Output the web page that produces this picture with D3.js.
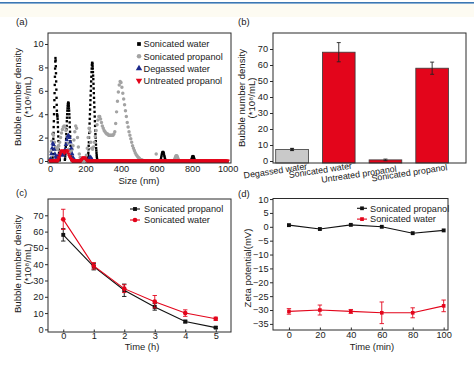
<!DOCTYPE html>
<html><head><meta charset="utf-8">
<script src="https://cdn.jsdelivr.net/npm/d3@7"></script>
<style>
body{margin:0;background:#fff}
svg{display:block}
text{font-family:"Liberation Sans",Arial,Helvetica,sans-serif;fill:#1a1a1a}
</style>
</head><body>
<svg id="fig" width="474" height="365"></svg>
<script>
// ---------------- DATA ----------------
// (a) size distribution: segments of [start size (nm), step (nm), densities]
const legendA = ["Sonicated water", "Sonicated propanol", "Degassed water", "Untreated propanol"];
const sizeTicksA = [0, 200, 400, 600, 800, 1000];
const densityTicksA = [0, 2, 4, 6, 8, 10];

const sonicatedWaterSegs = [
  {start: 14, step: 1, values: [0.1,0.3,0.6,1.0,1.4,1.9,2.4,2.9,3.4,4.0,4.6,5.2,5.8,6.5,7.2,7.9,8.5,8.8,8.6,8.1,7.5,6.8,6.1,5.4,4.8,4.3,4.0,3.9,3.8,3.6,3.3,2.9,2.5,2.1,1.7,1.3,1.0,0.7,0.5,0.3,0.15,0.05]},
  {start: 84, step: 1, values: [0.1,0.2,0.4,0.6,0.9,1.2,1.5,1.9,2.3,2.7,3.0,3.4,3.7,4.0,4.3,4.5,4.7,4.85,4.95,5.0,4.95,4.85,4.7,4.5,4.3,4.0,3.7,3.3,2.9,2.5,2.1,1.7,1.3,1.0,0.7,0.5,0.3,0.15,0.05]},
  {start: 212, step: 1, values: [0.1,0.2,0.35,0.5,0.7,1.0,1.3,1.6,2.0,2.4,2.8,3.2,3.6,4.0,4.4,4.8,5.2,5.6,6.0,6.4,6.8,7.2,7.6,7.9,8.2,8.35,8.4,8.3,8.1,7.9,7.6,7.3,7.0,6.6,6.2,5.8,5.4,5.0,4.6,4.2,3.8,3.4,3.0,2.6,2.3,2.0,1.7,1.4,1.1,0.9,0.7,0.5,0.35,0.2,0.1,0.05]},
  {start: 622, step: 2, values: [0.05,0.15,0.3,0.45,0.6,0.7,0.75,0.78,0.75,0.68,0.55,0.42,0.3,0.18,0.08]},
  {start: 795, step: 2, values: [0.05,0.15,0.26,0.35,0.4,0.42,0.4,0.34,0.25,0.15,0.06]}
];
const sonicatedPropanolSegs = [
  {start: 0, step: 5, values: [0.2,0.8,1.7,2.3,2.2,1.6,1.2,1.0,1.0,1.1,1.3,1.6,2.0,2.4,2.7,2.9,3.0,2.9,2.6,2.1,1.5,1.0,0.7,
    0.6,0.8,1.0,1.3,1.8,2.5,3.0,2.8,2.0,1.2,0.6,0.3,0.1,0.05,0.02,0.02,0.05,
    0.2,0.5,1.1,2.0,2.8,2.5,1.6,1.1,1.0,1.2,1.6,2.1,2.6,3.1,3.5,3.8,3.8,3.6,3.3,3.0,2.8,2.6,2.5,2.4,2.3,2.3,2.2,2.2,
    2.2,2.2,2.2,2.2,2.3,2.5,3.2,4.2,5.1,5.9,6.5,6.8,6.7,6.3,5.8,5.3,4.8,4.3,3.8,3.3,2.9,2.5,2.2,1.9,1.6,1.3,1.1,0.9,0.7,0.55,0.45,0.35,0.27,0.2,0.14,0.1,0.07,0.05,0.03]},
  {start: 598, step: 1, values: [0.6]},
  {start: 700, step: 3, values: [0.08,0.2,0.32,0.42,0.46,0.42,0.32,0.2,0.08]}
];
const degassedWaterSegs = [
  {start: 4, step: 4, values: [0.2,0.6,1.1,1.5,1.4,1.0,0.6,0.4,0.3,0.3]},
  {start: 45, step: 5, values: [0.4,0.5,0.6,0.7,0.6,0.5,0.5,0.7,1.0,1.4,1.8,2.1,2.2,2.0,1.6,1.1,0.6,0.3,0.1,0.05]},
  {start: 215, step: 5, values: [0.05,0.2,0.35,0.3,0.15,0.05]}
];
const untreatedPropanolSegs = [
  {start: 45, step: 5, values: [0.1,0.3,0.5,0.7,0.85,0.9,0.8,0.7,0.75,0.85,0.9,0.8,0.6,0.4,0.25,0.15,0.08]},
  {start: 175, step: 5, values: [0.05,0.15,0.25,0.3,0.28,0.2,0.1,0.03]}
];
const baselineSizes = d3.range(0, 1001, 2);   // size bins measured at zero density

// (b) total bubble density
const samplesB = ["Degassed water", "Sonicated water", "Untreated propanol", "Sonicated propanol"];
const densityB = [7.2, 68, 0.7, 58];
const errorB = [0.7, 6, 0.5, 3.8];
const ticksB = [0, 10, 20, 30, 40, 50, 60, 70];

// (c) decay over time
const timeC = [0, 1, 2, 3, 4, 5];
const propanolC = [58, 38.5, 24, 13.8, 4.8, 1.1];
const propanolErrC = [3.8, 2, 3.8, 2, 0.8, 0.5];
const waterC = [67.5, 39, 25, 17, 10, 6.5];
const waterErrC = [6.2, 2, 2.4, 3.8, 2, 1];
const ticksCy = [0, 10, 20, 30, 40, 50, 60, 70];

// (d) zeta potential
const timeD = [0, 20, 40, 60, 80, 100];
const propanolD = [0.6, -0.8, 0.7, 0, -2.3, -1.3];
const waterD = [-30.5, -30, -30.5, -31, -31, -28.5];
const waterErrD = [1, 1.8, 0.7, 3.9, 1.8, 2.1];
const ticksDy = [10, 5, 0, -5, -10, -15, -20, -25, -30, -35];
const ticksDx = [0, 20, 40, 60, 80, 100];

// ---------------- DRAW ----------------
const svg = d3.select("#fig");
const FS = 9.2;
const AX = "#2b2b2b";
const RED = "#e3051b";
const fmt = d3.format("d");

// header strip
svg.append("rect").attr("x",0).attr("y",4).attr("width",474).attr("height",13).attr("fill","#fdfbf2");
svg.append("rect").attr("x",0).attr("y",2).attr("width",474).attr("height",1.6).attr("fill","#3b77b3");

function frame(x0, y0, x1, y1) {
  svg.append("rect").attr("x", x0).attr("y", y0).attr("width", x1 - x0).attr("height", y1 - y0)
    .attr("fill", "none").attr("stroke", AX).attr("stroke-width", 1);
}
function styleAxis(g) {
  g.select(".domain").remove();
  g.selectAll(".tick line").attr("stroke", AX);
  g.selectAll(".tick text").attr("font-size", FS).attr("fill", "#1a1a1a")
    .attr("font-family", '"Liberation Sans",Arial,sans-serif');
}
function panelLabel(t, x, y) {
  svg.append("text").attr("x", x).attr("y", y).attr("font-size", 9.5).text(t);
}
function ylabel2(lines, x, y) {
  const t = svg.append("text").attr("transform", `translate(${x},${y}) rotate(-90)`)
    .attr("text-anchor", "middle").attr("font-size", 9.6);
  t.append("tspan").attr("x", 0).attr("dy", 0).text(lines[0]);
  t.append("tspan").attr("x", 0).attr("dy", 9.5).text(lines[1]);
}
const expand = segs => segs.flatMap(s => s.values.map((v, i) => ({x: s.start + i * s.step, y: v})));

// ---------- (a) ----------
{
  const x = d3.scaleLinear().domain([-11, 1019]).range([48, 231]);
  const y = d3.scaleLinear().domain([-0.17, 10.94]).range([163, 33]);
  const g = svg.append("g");
  g.append("g").attr("transform", "translate(0,163)")
    .call(d3.axisBottom(x).tickValues(sizeTicksA).tickFormat(fmt).tickSize(-2.5).tickPadding(2)).call(styleAxis);
  g.append("g").attr("transform", "translate(48,0)")
    .call(d3.axisLeft(y).tickValues(densityTicksA).tickFormat(fmt).tickSize(3).tickPadding(1.5)).call(styleAxis);

  svg.append("clipPath").attr("id", "clipA").append("rect")
    .attr("x", 48).attr("y", 33).attr("width", 183).attr("height", 130);
  const pg = g.append("g").attr("clip-path", "url(#clipA)");

  const water = expand(sonicatedWaterSegs);
  const prop = expand(sonicatedPropanolSegs);
  const degas = expand(degassedWaterSegs);
  const untr = expand(untreatedPropanolSegs);
  const ranges = untreatedPropanolSegs.map(s => [s.start, s.start + s.step * (s.values.length - 1)]);
  baselineSizes.forEach(b => { if (!ranges.some(r => b >= r[0] && b <= r[1])) untr.push({x: b, y: 0}); });

  const sq = d3.symbol().type(d3.symbolSquare).size(5.5)();
  const ci = d3.symbol().type(d3.symbolCircle).size(9.5)();
  const tri = d3.symbol().type(d3.symbolTriangle).size(9)();

  pg.selectAll(".pw").data(water).join("path").attr("d", sq)
    .attr("transform", d => `translate(${x(d.x)},${y(d.y)})`).attr("fill", "#000");
  pg.selectAll(".pp").data(prop).join("path").attr("d", ci)
    .attr("transform", d => `translate(${x(d.x)},${y(d.y)})`).attr("fill", "#a3a3a3");
  pg.selectAll(".pd").data(degas).join("path").attr("d", tri)
    .attr("transform", d => `translate(${x(d.x)},${y(d.y)})`).attr("fill", "#1c2a8c");
  pg.selectAll(".pu").data(untr).join("path").attr("d", tri)
    .attr("transform", d => `translate(${x(d.x)},${y(d.y)}) rotate(180)`).attr("fill", RED);
  frame(48, 33, 231, 163);

  const lgSym = [
    {d: d3.symbol().type(d3.symbolSquare).size(14)(), c: "#000", r: 0},
    {d: d3.symbol().type(d3.symbolCircle).size(16)(), c: "#a3a3a3", r: 0},
    {d: d3.symbol().type(d3.symbolTriangle).size(18)(), c: "#1c2a8c", r: 0},
    {d: d3.symbol().type(d3.symbolTriangle).size(18)(), c: RED, r: 180}
  ];
  legendA.forEach((t, i) => {
    const yy = 44 + i * 12.2;
    g.append("path").attr("d", lgSym[i].d).attr("fill", lgSym[i].c)
      .attr("transform", `translate(139,${yy}) rotate(${lgSym[i].r})`);
    g.append("text").attr("x", 143.5).attr("y", yy + 3.3).attr("font-size", FS).text(t);
  });
  panelLabel("(a)", 16, 25);
  svg.append("text").attr("x", 139).attr("y", 184).attr("text-anchor", "middle").attr("font-size", 9.6).text("Size (nm)");
  ylabel2(["Bubble number density", "(*10\u2076/mL)"], 21, 97);
}

// ---------- (b) ----------
{
  const x = d3.scaleBand().domain(samplesB).range([268.7, 455.5]).paddingInner(0.3).paddingOuter(0.15);
  const y = d3.scaleLinear().domain([-1.25, 80]).range([163, 33]);
  const g = svg.append("g");
  g.append("g").attr("transform", "translate(273,0)")
    .call(d3.axisLeft(y).tickValues(ticksB).tickSize(3).tickPadding(2)).call(styleAxis);
  const bars = samplesB.map((s, i) => ({s, v: densityB[i], e: errorB[i], i}));
  g.selectAll(".bar").data(bars).join("rect")
    .attr("x", d => x(d.s)).attr("width", x.bandwidth())
    .attr("y", d => y(d.v)).attr("height", d => y(0) - y(d.v) + 2)
    .attr("fill", d => d.i === 0 ? "#c9c9c9" : RED).attr("stroke", "#3a3a3a").attr("stroke-width", 0.8);
  const labEndDx = [15, 13, 11, 15];
  const labEndY = [166, 165.5, 168.5, 167];
  bars.forEach(d => {
    const cx = x(d.s) + x.bandwidth() / 2;
    g.append("line").attr("x1", cx).attr("x2", cx).attr("y1", y(d.v + d.e)).attr("y2", y(d.v - d.e)).attr("stroke", "#222").attr("stroke-width", 0.9);
    [d.v + d.e, d.v - d.e].forEach(v => g.append("line").attr("x1", cx - 2).attr("x2", cx + 2)
      .attr("y1", y(v)).attr("y2", y(v)).attr("stroke", "#222").attr("stroke-width", 0.9));
    if (d.i === 0) g.append("rect").attr("x", cx - 1.5).attr("y", y(d.v) - 1.5).attr("width", 3).attr("height", 3).attr("fill", "#222");
    g.append("text").attr("text-anchor", "end").attr("font-size", 8.9).attr("dy", "0.35em")
      .attr("transform", `translate(${cx + labEndDx[d.i]},${labEndY[d.i]}) rotate(-8.5)`).text(d.s);
  });
  frame(273, 33, 466, 163);
  panelLabel("(b)", 238, 25);
  ylabel2(["Bubble number density", "(*10\u2078/mL)"], 245, 98);
}

// ---------- (c) ----------
{
  const x = d3.scaleLinear().domain([-0.5, 5.5]).range([48, 231]);
  const y = d3.scaleLinear().domain([-1.6, 80]).range([332, 199]);
  const g = svg.append("g");
  g.append("g").attr("transform", "translate(0,332)")
    .call(d3.axisBottom(x).tickValues(timeC).tickFormat(fmt).tickSize(-2.5).tickPadding(0.8)).call(styleAxis);
  g.append("g").attr("transform", "translate(48,0)")
    .call(d3.axisLeft(y).tickValues(ticksCy).tickFormat(fmt).tickSize(3).tickPadding(1.5)).call(styleAxis);
  const series = [
    {v: propanolC, e: propanolErrC, c: "#111", sym: d3.symbolSquare, sz: 15},
    {v: waterC, e: waterErrC, c: RED, sym: d3.symbolCircle, sz: 17}
  ];
  series.forEach(s => {
    const pts = timeC.map((t, i) => ({t, v: s.v[i], e: s.e[i]}));
    g.append("path").datum(pts).attr("fill", "none").attr("stroke", s.c).attr("stroke-width", 1.1)
      .attr("d", d3.line().x(d => x(d.t)).y(d => y(d.v)));
    pts.forEach(d => {
      const cx = x(d.t);
      const lo = Math.max(d.v - d.e, -1);
      g.append("line").attr("x1", cx).attr("x2", cx).attr("y1", y(d.v + d.e)).attr("y2", y(lo)).attr("stroke", s.c).attr("stroke-width", 0.9);
      [d.v + d.e, lo].forEach(v => g.append("line").attr("x1", cx - 2.2).attr("x2", cx + 2.2)
        .attr("y1", y(v)).attr("y2", y(v)).attr("stroke", s.c).attr("stroke-width", 0.9));
      g.append("path").attr("d", d3.symbol().type(s.sym).size(s.sz)()).attr("fill", s.c)
        .attr("transform", `translate(${cx},${y(d.v)})`);
    });
  });
  frame(48, 199, 231, 332);
  const lg = [["Sonicated propanol", "#111", d3.symbolSquare, 15], ["Sonicated water", RED, d3.symbolCircle, 17]];
  lg.forEach((l, i) => {
    const yy = 209 + i * 11;
    g.append("line").attr("x1", 130).attr("x2", 140).attr("y1", yy).attr("y2", yy).attr("stroke", l[1]).attr("stroke-width", 1.1);
    g.append("path").attr("d", d3.symbol().type(l[2]).size(l[3])()).attr("fill", l[1]).attr("transform", `translate(135,${yy})`);
    g.append("text").attr("x", 144).attr("y", yy + 3.3).attr("font-size", FS).text(l[0]);
  });
  panelLabel("(c)", 16, 196);
  svg.append("text").attr("x", 142).attr("y", 349.5).attr("text-anchor", "middle").attr("font-size", 9.4).text("Time (h)");
  ylabel2(["Bubble number density", "(*10\u2078/mL)"], 21, 264);
}

// ---------- (d) ----------
{
  const x = d3.scaleLinear().domain([-10.3, 102.8]).range([273, 448]);
  const y = d3.scaleLinear().domain([-37.2, 10.2]).range([330, 198.5]);
  const g = svg.append("g");
  g.append("g").attr("transform", "translate(0,330)")
    .call(d3.axisBottom(x).tickValues(ticksDx).tickFormat(fmt).tickSize(-2.5).tickPadding(1)).call(styleAxis);
  g.append("g").attr("transform", "translate(273,0)")
    .call(d3.axisLeft(y).tickValues(ticksDy).tickFormat(fmt).tickSize(3).tickPadding(1.5)).call(styleAxis);
  const sets = [
    {v: propanolD, e: null, c: "#111", sym: d3.symbolSquare, sz: 15},
    {v: waterD, e: waterErrD, c: RED, sym: d3.symbolSquare, sz: 13}
  ];
  sets.forEach(s => {
    const pts = timeD.map((t, i) => ({t, v: s.v[i], e: s.e ? s.e[i] : 0}));
    g.append("path").datum(pts).attr("fill", "none").attr("stroke", s.c).attr("stroke-width", 1.1)
      .attr("d", d3.line().x(d => x(d.t)).y(d => y(d.v)));
    pts.forEach(d => {
      const cx = x(d.t);
      if (d.e) {
        g.append("line").attr("x1", cx).attr("x2", cx).attr("y1", y(d.v + d.e)).attr("y2", y(d.v - d.e)).attr("stroke", s.c).attr("stroke-width", 0.9);
        [d.v + d.e, d.v - d.e].forEach(v => g.append("line").attr("x1", cx - 2.2).attr("x2", cx + 2.2)
          .attr("y1", y(v)).attr("y2", y(v)).attr("stroke", s.c).attr("stroke-width", 0.9));
      }
      g.append("path").attr("d", d3.symbol().type(s.sym).size(s.sz)()).attr("fill", s.c)
        .attr("transform", `translate(${cx},${y(d.v)})`);
    });
  });
  frame(273, 198.5, 448, 330);
  const lg = [["Sonicated propanol", "#111"], ["Sonicated water", RED]];
  lg.forEach((l, i) => {
    const yy = 208.3 + i * 10.8;
    g.append("line").attr("x1", 357).attr("x2", 367).attr("y1", yy).attr("y2", yy).attr("stroke", l[1]).attr("stroke-width", 1.1);
    g.append("path").attr("d", d3.symbol().type(d3.symbolSquare).size(14)()).attr("fill", l[1]).attr("transform", `translate(362,${yy})`);
    g.append("text").attr("x", 370).attr("y", yy + 3.3).attr("font-size", FS).text(l[0]);
  });
  panelLabel("(d)", 238, 197);
  svg.append("text").attr("x", 372).attr("y", 349.5).attr("text-anchor", "middle").attr("font-size", 9.4).text("Time (min)");
  svg.append("text").attr("transform", "translate(251,268) rotate(-90)").attr("text-anchor", "middle").attr("font-size", 9.6).text("Zeta potential(mV)");
}
</script>
</body></html>
